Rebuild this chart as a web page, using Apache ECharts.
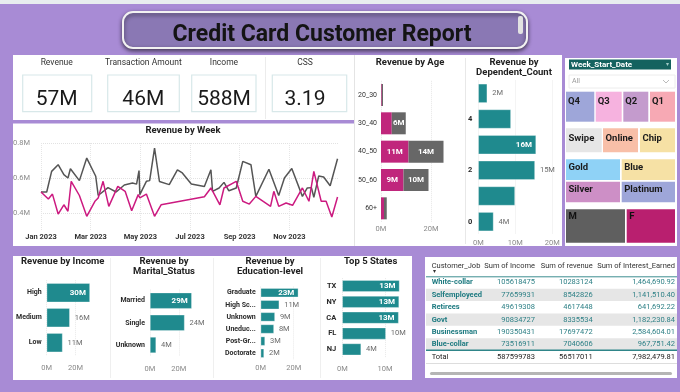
<!DOCTYPE html>
<html><head><meta charset="utf-8">
<script src="https://cdn.jsdelivr.net/npm/echarts@6/dist/echarts.min.js"></script>
<style>html,body{margin:0;padding:0;background:#a88bd5;}#c{width:680px;height:392px;}</style>
</head><body><div id="c"></div>
<script>
// ---------------- DATA ----------------
const reportTitle = 'Credit Card Customer Report';
const kpiTitles = ['Revenue', 'Transaction Amount', 'Income', 'CSS'];
const kpiValues = ['57M', '46M', '588M', '3.19'];

const weekTickLabels = ['Jan 2023', 'Mar 2023', 'May 2023', 'Jul 2023', 'Sep 2023', 'Nov 2023'];
const weekMaleDates = ['2023-01-01','2023-01-08','2023-01-14','2023-01-22','2023-01-29','2023-02-03','2023-02-06','2023-02-17','2023-02-26','2023-03-09','2023-03-12','2023-03-24','2023-04-03','2023-04-13','2023-04-23','2023-04-28','2023-05-01','2023-05-02','2023-05-10','2023-05-14','2023-05-20','2023-05-26','2023-06-07','2023-06-17','2023-06-23','2023-07-04','2023-07-20','2023-07-28','2023-07-30','2023-08-07','2023-08-13','2023-08-19','2023-08-28','2023-09-05','2023-09-15','2023-09-21','2023-10-07','2023-10-19','2023-10-26','2023-11-04','2023-11-17','2023-11-23','2023-11-28','2023-12-01','2023-12-07','2023-12-13','2023-12-21','2023-12-30'];
const weekMaleValues = [0.52,0.52,0.638,0.676,0.619,0.600,0.653,0.585,0.714,0.610,0.500,0.545,0.520,0.560,0.571,0.565,0.642,0.505,0.581,0.585,0.771,0.580,0.562,0.647,0.629,0.566,0.552,0.647,0.524,0.543,0.575,0.527,0.543,0.695,0.676,0.495,0.650,0.500,0.600,0.654,0.495,0.543,0.545,0.490,0.612,0.606,0.556,0.710];
const weekFemaleDates = ['2023-01-01','2023-01-10','2023-01-15','2023-01-22','2023-01-29','2023-02-03','2023-02-07','2023-02-17','2023-02-26','2023-03-08','2023-03-12','2023-03-18','2023-03-25','2023-04-05','2023-04-14','2023-04-22','2023-04-30','2023-05-02','2023-05-10','2023-05-20','2023-05-28','2023-07-20','2023-07-28','2023-08-08','2023-08-13','2023-08-28','2023-09-05','2023-09-13','2023-09-21','2023-10-09','2023-10-13','2023-10-19','2023-10-28','2023-11-05','2023-11-17','2023-11-25','2023-12-01','2023-12-10','2023-12-16','2023-12-23','2023-12-30'];
const weekFemaleValues = [0.52,0.48,0.508,0.394,0.447,0.41,0.581,0.50,0.381,0.467,0.486,0.581,0.438,0.552,0.524,0.413,0.505,0.486,0.508,0.381,0.447,0.493,0.543,0.447,0.543,0.581,0.467,0.451,0.495,0.438,0.524,0.438,0.457,0.444,0.543,0.467,0.638,0.467,0.467,0.377,0.491];

const ageCategories = ['20_30', '30_40', '40_50', '50_60', '60+'];
const ageFemale = [0.3, 4.3, 11, 9, 1.2];
const ageMale = [0.5, 5.6, 14, 10, 1.1];

const depCategories = ['0', '1', '2', '3', '4', '5'];
const depValues = [4.1, 9.9, 15.3, 15.6, 8.8, 2.4];

const incomeCategories = ['High', 'Medium', 'Low'];
const incomeValues = [30, 16, 11];
const maritalCategories = ['Married', 'Single', 'Unknown'];
const maritalValues = [29, 24, 4.2];
const eduCategories = ['Graduate', 'High Sc...', 'Unknown', 'Uneduc...', 'Post-Gr...', 'Doctorate'];
const eduValues = [22.8, 11.2, 8.6, 8.0, 2.6, 2.0];
const stateCategories = ['TX', 'NY', 'CA', 'FL', 'NJ'];
const stateValues = [13.4, 13.3, 13.2, 10.2, 4.4];

const tableHeaders = ['Customer_Job', 'Sum of Income', 'Sum of revenue', 'Sum of Interest_Earned'];
const tableJobs = ['White-collar', 'Selfemployeed', 'Retirees', 'Govt', 'Businessman', 'Blue-collar'];
const tableIncome = [105618475, 77659931, 49619308, 90834727, 190350431, 73516911];
const tableRevenue = [10283124, 8542826, 4617448, 8335534, 17697472, 7040606];
const tableInterest = [1464690.92, 1141510.40, 641692.22, 1182230.84, 2584604.01, 967751.42];
const tableTotalLabel = 'Total';
const tableTotals = [587599783, 56517011, 7982479.81];

const slicerTitle = 'Week_Start_Date';
const slicerAll = 'All';
const quarterLabels = ['Q4', 'Q3', 'Q2', 'Q1'];
const cardTypeLabels = ['Swipe', 'Online', 'Chip'];
const cardCategoryLabels = ['Gold', 'Blue', 'Silver', 'Platinum'];
const genderLabels = ['M', 'F'];

// ---------------- STYLE / LAYOUT ----------------
const FONT = 'Roboto, "Noto Sans", sans-serif';
const TEAL = '#1f8a8e';
const MAG = '#c0267c';
const GRAY = '#676767';
const g = [];
function rect(x, y, w, h, fill, o) {
  o = o || {};
  g.push({ type: 'rect', silent: true, z: o.z == null ? 0 : o.z,
    shape: { x, y, width: w, height: h, r: o.r || 0 },
    style: Object.assign({ fill }, o.style || {}) });
}
function txt(x, y, t, o) {
  o = o || {};
  g.push({ type: 'text', silent: true, z: 20, x, y,
    style: { text: t, fill: o.color || '#222', fontSize: o.size || 8, fontWeight: o.weight || 'normal',
      fontFamily: o.family || FONT, align: o.align || 'left', verticalAlign: 'middle' } });
}
function line(x1, y1, x2, y2, stroke, w) {
  g.push({ type: 'line', silent: true, z: 5, shape: { x1, y1, x2, y2 }, style: { stroke, lineWidth: w || 1 } });
}

// background pieces
rect(0, 0, 680, 4, '#e8edef');
// title banner
rect(123, 12, 404, 36, '#8a78b4', { r: 10, z: 1, style: { stroke: '#f2f2f2', lineWidth: 2, shadowBlur: 4, shadowColor: 'rgba(0,0,0,0.55)', shadowOffsetY: 2 } });
rect(518, 16, 5, 18, '#e2e2e2', { r: 2, z: 2 });
txt(322, 35, reportTitle, { size: 23, weight: 'bold', color: '#141414', align: 'center' });

// white panels
rect(13, 55, 549, 191, '#ffffff');
rect(10, 120, 345, 3.5, '#a88bd5', { z: 1 });
line(354.5, 55, 354.5, 246, '#e4e4e4', 1);
line(465.5, 58, 465.5, 244, '#e8e8e8', 1);
line(265.5, 57, 265.5, 119, '#ececec', 1);
rect(565, 58, 112, 188, '#ffffff');
rect(13, 256, 399, 124, '#ffffff');
line(110.5, 258, 110.5, 378, '#efefef', 1);
line(213.5, 258, 213.5, 378, '#efefef', 1);
line(320.5, 258, 320.5, 378, '#efefef', 1);
rect(425, 257, 252, 121, '#ffffff');

// KPI cards
const kpiCx = [56.7, 143.3, 224, 305];
const kpiBoxX = [22.7, 107.7, 191.7, 272.3];
const kpiBoxW = [69, 71.6, 64.3, 74.4];
kpiTitles.forEach((t, i) => {
  txt(kpiCx[i], 62.5, t, { size: 8.5, color: '#333', align: 'center' });
  rect(kpiBoxX[i], 75, kpiBoxW[i], 36.7, '#ffffff', { z: 1, style: { stroke: '#d8e8e9', lineWidth: 1.2 } });
  txt(kpiCx[i], 99.5, kpiValues[i], { size: 21, color: '#1a1a1a', align: 'center' });
});

// chart titles
txt(183, 130.5, 'Revenue by Week', { size: 9.5, weight: 'bold', align: 'center' });
txt(410, 62.7, 'Revenue by Age', { size: 9.5, weight: 'bold', align: 'center' });
txt(514, 62.7, 'Revenue by', { size: 9.5, weight: 'bold', align: 'center' });
txt(514, 72.7, 'Dependent_Count', { size: 9.5, weight: 'bold', align: 'center' });
txt(62.7, 261.7, 'Revenue by Income', { size: 9.5, weight: 'bold', align: 'center' });
txt(164, 261.7, 'Revenue by', { size: 9.5, weight: 'bold', align: 'center' });
txt(164, 271.7, 'Marital_Status', { size: 9.5, weight: 'bold', align: 'center' });
txt(270, 261.7, 'Revenue by', { size: 9.5, weight: 'bold', align: 'center' });
txt(270, 271.7, 'Education-level', { size: 9.5, weight: 'bold', align: 'center' });
txt(370.7, 261.7, 'Top 5 States', { size: 9.5, weight: 'bold', align: 'center' });

// slicers
rect(569, 59.5, 102, 10, '#14625f', { z: 2 });
txt(571, 64.6, slicerTitle, { size: 8, weight: 'bold', color: '#ffffff' });
txt(667, 64.4, '\u25BE', { size: 6, color: '#9fc9c6', align: 'center' });
rect(569, 75, 106, 13, '#ffffff', { z: 2, style: { stroke: '#ececec', lineWidth: 1 } });
txt(572, 81.7, slicerAll, { size: 7, color: '#9a9a9a' });
g.push({ type: 'polyline', silent: true, z: 20, shape: { points: [[663, 80], [666, 83], [669, 80]] }, style: { stroke: '#aaaaaa', lineWidth: 0.8, fill: null } });
const qX = [566, 595.7, 623.3, 650], qW = [28.3, 26, 25, 25], qC = ['#9ea6d9', '#f6b2df', '#c49bcd', '#f7a9b4'];
quarterLabels.forEach((t, i) => { rect(qX[i], 91.7, qW[i], 30, qC[i], { z: 2 }); txt(qX[i] + 2, 101.7, t, { size: 9.5, weight: 'bold', color: '#1a1a1a' }); });
const cX = [566, 603, 640], cW = [35.7, 35, 35], cC = ['#e6e6e6', '#f8bfa8', '#f6e1a5'];
cardTypeLabels.forEach((t, i) => { rect(cX[i], 128.3, cW[i], 24, cC[i], { z: 2 }); txt(cX[i] + 2.5, 138.5, t, { size: 9.5, weight: 'bold', color: '#1a1a1a' }); });
const kX = [566, 621.7, 566, 621.7], kY = [159.3, 159.3, 181.7, 181.7], kW = [54, 53.3, 54, 53.3], kC = ['#8fd2f6', '#f6e1a5', '#cd8fc6', '#9ea6d9'];
cardCategoryLabels.forEach((t, i) => { rect(kX[i], kY[i], kW[i], 20.6, kC[i], { z: 2 }); txt(kX[i] + 2.5, kY[i] + 8, t, { size: 9.5, weight: 'bold', color: '#1a1a1a' }); });
const mX = [566, 626.7], mW = [59, 48.3], mC = ['#5f5f5f', '#b91f6f'];
genderLabels.forEach((t, i) => { rect(mX[i], 209.3, mW[i], 33.4, mC[i], { z: 2 }); txt(mX[i] + 2.5, 217, t, { size: 9.5, weight: 'bold', color: '#111' }); });

// table
const colRight = [null, 535, 592.7, 675];
const fmt2 = v => v.toLocaleString('en-US', { minimumFractionDigits: 2, maximumFractionDigits: 2 });
txt(431.7, 265.7, tableHeaders[0], { size: 7.5, color: '#333' });
for (let c = 1; c < 4; c++) txt(colRight[c], 265.7, tableHeaders[c], { size: 7.5, color: '#333', align: 'right' });
txt(434.5, 271.3, '\u25BE', { size: 6, color: '#333', align: 'center' });
line(426, 276.8, 677, 276.8, '#3c8d90', 1);
tableJobs.forEach((job, i) => {
  const y = 282.6 + i * 12.35;
  if (i % 2 === 1) rect(426, y - 6.1, 251, 12.2, '#e6e6e6', { z: 1 });
  txt(431.7, y, job, { size: 7.5, weight: 'bold', color: '#1d7a80' });
  txt(colRight[1], y, String(tableIncome[i]), { size: 7.5, color: '#2e8086', align: 'right' });
  txt(colRight[2], y, String(tableRevenue[i]), { size: 7.5, color: '#2e8086', align: 'right' });
  txt(colRight[3], y, fmt2(tableInterest[i]), { size: 7.5, color: '#2e8086', align: 'right' });
});
line(426, 350.3, 677, 350.3, '#2f8589', 1.4);
txt(431.7, 357.3, tableTotalLabel, { size: 7.5, color: '#222' });
txt(colRight[1], 357.3, String(tableTotals[0]), { size: 7.5, color: '#222', align: 'right' });
txt(colRight[2], 357.3, String(tableTotals[1]), { size: 7.5, color: '#222', align: 'right' });
txt(colRight[3], 357.3, fmt2(tableTotals[2]), { size: 7.5, color: '#222', align: 'right' });
line(426, 363.5, 677, 363.5, '#dddddd', 1);
rect(430, 372, 242, 3, '#b5b5b5', { z: 2, r: 1.5 });

// ---------------- CHARTS ----------------
const grids = [], xAxes = [], yAxes = [], series = [];
function addGrid(left, top, width, height) {
  grids.push({ left, top, width, height, containLabel: false, outerBoundsMode: 'none' });
  return grids.length - 1;
}
function splitColors(max, interval, color) {
  const n = Math.floor(max / interval + 1e-9) + 1;
  const arr = [];
  for (let i = 0; i < n; i++) arr.push(color);
  if (Math.abs(max / interval - Math.round(max / interval)) > 1e-6) arr.push('rgba(0,0,0,0)');
  return arr;
}
const IN_LABEL = { show: true, position: 'insideRight', color: '#ffffff', fontWeight: 'bold', fontSize: 8, distance: 4 };
const OUT_LABEL = { show: true, position: 'right', color: '#6b6b6b', fontWeight: 'normal', fontSize: 7.5, distance: 5 };
const NO_LABEL = { show: false };

function barChart(cfg) {
  const gi = addGrid(cfg.left, cfg.top, cfg.width, cfg.height);
  const hidden = cfg.hideLabels || [];
  xAxes.push({ type: 'value', gridIndex: gi, min: 0, max: cfg.max, interval: cfg.interval,
    axisLine: { show: false }, axisTick: { show: false },
    splitLine: { show: true, lineStyle: { color: splitColors(cfg.max, cfg.interval, '#e9e9e9'), type: 'dotted' } },
    axisLabel: { fontSize: 7.5, color: '#8a8a8a', margin: cfg.xMargin, fontFamily: FONT,
      formatter: v => Math.abs(v / cfg.interval - Math.round(v / cfg.interval)) < 1e-6 ? Math.round(v) + 'M' : '' } });
  yAxes.push({ type: 'category', gridIndex: gi, data: cfg.cats, inverse: cfg.inverse !== false,
    axisLine: { show: false }, axisTick: { show: false },
    axisLabel: { fontSize: cfg.catSize || 7.5, color: '#2a2a2a', fontWeight: cfg.catWeight || 'bold', margin: cfg.yMargin || 5, fontFamily: FONT,
      interval: cfg.labelInterval == null ? 0 : cfg.labelInterval } });
  series.push({ type: 'bar', xAxisIndex: gi, yAxisIndex: gi, barWidth: cfg.barWidth, silent: true, animation: false,
    itemStyle: { color: TEAL, borderColor: 'rgba(255,255,255,0.6)', borderWidth: 0.5 },
    label: { show: true, fontFamily: FONT, formatter: p => Math.round(p.value) + 'M' },
    data: cfg.vals.map((v, i) => ({ value: v, label: hidden.indexOf(i) >= 0 ? NO_LABEL : (v >= cfg.insideMin ? IN_LABEL : OUT_LABEL) })) });
}

// Revenue by Week (line)
const day0 = Date.parse('2023-01-01');
const toDay = d => (Date.parse(d) - day0) / 86400000;
const DAY_INT = 60.8;
const giW = addGrid(41, 143, 298, 87.5);
xAxes.push({ type: 'value', gridIndex: giW, min: 0, max: DAY_INT * 6, interval: DAY_INT,
  axisLine: { show: false }, axisTick: { show: false },
  splitLine: { show: true, lineStyle: { color: ['#e6e6e6', '#e6e6e6', '#e6e6e6', '#e6e6e6', '#e6e6e6', '#e6e6e6', 'rgba(0,0,0,0)'], type: 'dotted' } },
  axisLabel: { fontSize: 7.5, color: '#333', fontWeight: 'bold', margin: 3, fontFamily: FONT,
    formatter: v => { const i = Math.round(v / DAY_INT); return (Math.abs(v - i * DAY_INT) < 0.05 && i < weekTickLabels.length) ? weekTickLabels[i] : ''; } } });
yAxes.push({ type: 'value', gridIndex: giW, min: 0.3, max: 0.8, interval: 0.1,
  axisLine: { show: false }, axisTick: { show: false },
  splitLine: { show: true, lineStyle: { color: ['rgba(0,0,0,0)', '#e2e2e2'], type: 'dotted' } },
  axisLabel: { fontSize: 7.5, color: '#8a8a8a', margin: 11, fontFamily: FONT,
    formatter: v => { const r = Math.round(v * 10); return (Math.abs(v * 10 - r) < 1e-6 && r % 2 === 0) ? (r / 10).toFixed(1) + 'M' : ''; } } });
series.push({ type: 'line', xAxisIndex: giW, yAxisIndex: giW, showSymbol: false, silent: true, animation: false,
  lineStyle: { color: '#555555', width: 1.5 }, itemStyle: { color: '#555555' },
  data: weekMaleDates.map((d, i) => [toDay(d), weekMaleValues[i]]) });
series.push({ type: 'line', xAxisIndex: giW, yAxisIndex: giW, showSymbol: false, silent: true, animation: false,
  lineStyle: { color: '#cc1a80', width: 1.5 }, itemStyle: { color: '#cc1a80' },
  data: weekFemaleDates.map((d, i) => [toDay(d), weekFemaleValues[i]]) });

// Revenue by Age (stacked)
const giA = addGrid(381, 80.8, 75, 141.7);
xAxes.push({ type: 'value', gridIndex: giA, min: 0, max: 30, interval: 20,
  axisLine: { show: false }, axisTick: { show: false },
  splitLine: { show: true, lineStyle: { color: splitColors(30, 20, '#e6e6e6'), type: 'dotted' } },
  axisLabel: { fontSize: 7.5, color: '#8a8a8a', margin: 3, fontFamily: FONT,
    formatter: v => Math.abs(v / 20 - Math.round(v / 20)) < 1e-6 ? Math.round(v) + 'M' : '' } });
yAxes.push({ type: 'category', gridIndex: giA, data: ageCategories, inverse: true,
  axisLine: { show: false }, axisTick: { show: false },
  axisLabel: { fontSize: 7, color: '#333', margin: 4, fontFamily: FONT } });
const ageLabel = { show: true, position: 'inside', color: '#fff', fontWeight: 'bold', fontSize: 8, fontFamily: FONT,
  formatter: p => p.value >= 5 ? Math.round(p.value) + 'M' : '' };
series.push({ type: 'bar', stack: 'age', xAxisIndex: giA, yAxisIndex: giA, barWidth: 22, silent: true, animation: false,
  itemStyle: { color: MAG }, label: ageLabel, data: ageFemale });
series.push({ type: 'bar', stack: 'age', xAxisIndex: giA, yAxisIndex: giA, barWidth: 22, silent: true, animation: false,
  itemStyle: { color: GRAY }, label: ageLabel, data: ageMale });

// Revenue by Dependent_Count
barChart({ left: 478.3, top: 80.5, width: 74, height: 154, max: 20, interval: 10, cats: depCategories, vals: depValues,
  inverse: false, labelInterval: 1, barWidth: 19, insideMin: 15.5, xMargin: 5, yMargin: 6, catSize: 7.5, hideLabels: [1, 4] });
// Revenue by Income
barChart({ left: 46.7, top: 280.2, width: 50.4, height: 75, max: 35, interval: 20, cats: incomeCategories, vals: incomeValues,
  barWidth: 19, insideMin: 25, xMargin: 9, yMargin: 5, catSize: 7 });
// Revenue by Marital_Status
barChart({ left: 150, top: 289.6, width: 50.4, height: 66.5, max: 35, interval: 20, cats: maritalCategories, vals: maritalValues,
  barWidth: 16, insideMin: 28, xMargin: 9, yMargin: 5, catSize: 7 });
// Revenue by Education-level
barChart({ left: 260.7, top: 286.6, width: 49.5, height: 72.7, max: 30, interval: 20, cats: eduCategories, vals: eduValues,
  barWidth: 9, insideMin: 20, xMargin: 5, yMargin: 5, catSize: 7 });
// Top 5 States
barChart({ left: 342.3, top: 278.1, width: 64, height: 79.2, max: 15, interval: 10, cats: stateCategories, vals: stateValues,
  barWidth: 11.7, insideMin: 13, xMargin: 8, yMargin: 6, catSize: 7.5 });

const chart = echarts.init(document.getElementById('c'), null, { renderer: 'canvas' });
chart.setOption({
  backgroundColor: '#a88bd5',
  animation: false,
  textStyle: { fontFamily: FONT },
  grid: grids, xAxis: xAxes, yAxis: yAxes, series: series,
  graphic: { elements: g }
});
</script>
</body></html>
